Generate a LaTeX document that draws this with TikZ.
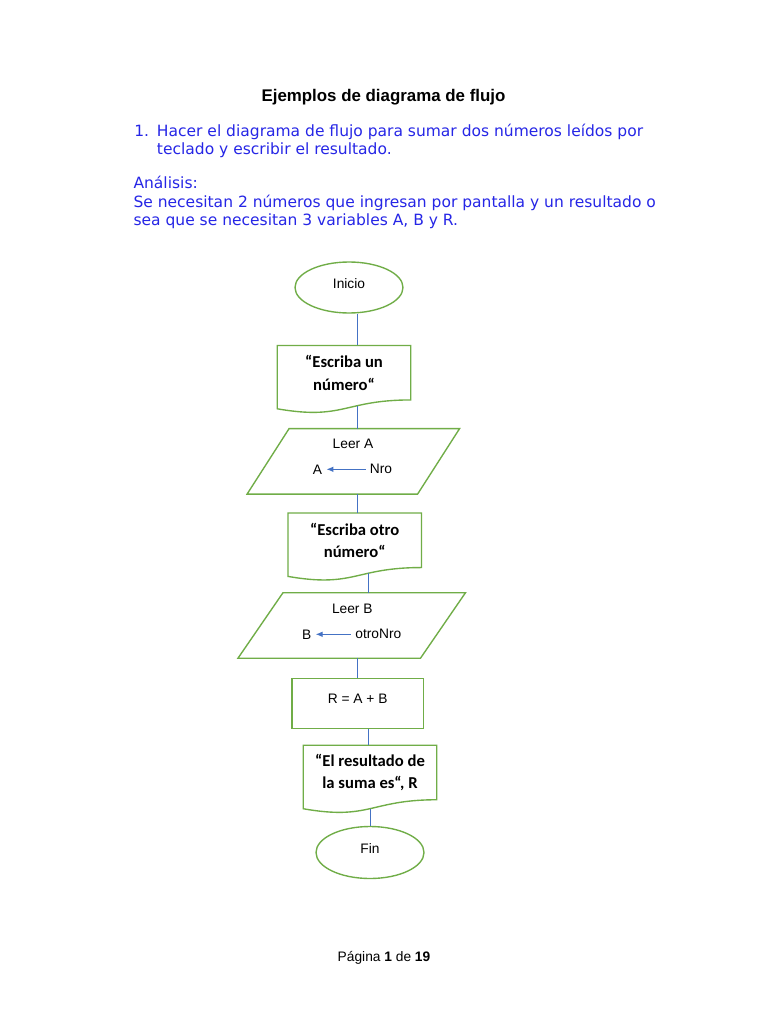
\documentclass[tikz,border=0pt]{standalone}
\usepackage{fontspec}
\setmainfont{Liberation Sans}
\newfontfamily\verdfont{DejaVu Sans}
\newfontfamily\calfont{Carlito}
\usetikzlibrary{calc,shapes.geometric,arrows.meta}
\definecolor{shapegreen}{RGB}{112,173,71}
\definecolor{linkblue}{RGB}{68,114,196}
\definecolor{textblue}{RGB}{38,38,230}
\def\px{0.02811cm}
\def\docshape#1#2#3{\draw[outline] ($(#1.south west)+(0,0.132*#2)$) -- (#1.north west) -- (#1.north east) -- (#1.south east) .. controls (#1.south) and ($(#1.south)+(0,0.3055*#2)$) .. coordinate[pos=#3] (#1-out) ($(#1.south west)+(0,0.132*#2)$) -- cycle;}
\def\ioshape#1#2{\draw[outline] ($(#1.north west)+(#2,0)$) -- ($(#1.north east)+(#2,0)$) -- ($(#1.south east)+(-#2,0)$) -- ($(#1.south west)+(-#2,0)$) -- cycle;}

\begin{document}
\begin{tikzpicture}[x=0.02811cm, y=-0.02811cm,
	outline/.style={draw=shapegreen, line width=1.1pt},
	flow/.style={draw=linkblue, line width=0.8pt},
	varrow/.style={draw=linkblue, line width=0.8pt, -{Latex[length=5.5pt,width=4.5pt]}},
	boxtext/.style={font=\fontsize{11}{13}\selectfont, text height=7.9pt, text depth=7pt, inner sep=0pt},
	plain/.style={font=\fontsize{11}{13}\selectfont},
	docbox/.style={rectangle, minimum width=133*\px, minimum height=54*\px, inner sep=0pt, align=center, font=\calfont\bfseries\fontsize{13.3}{18}\selectfont},
	iobox/.style={rectangle, minimum height=65*\px, inner sep=0pt},
	bluetext/.style={anchor=base west, inner sep=0pt, text=textblue, font=\verdfont\fontsize{12.4}{14}\selectfont}]
		%%%%% PAGE %%%%%
		
		\fill[white] (0,0) rectangle (768,1024);
		\useasboundingbox (0,0) rectangle (768,1024);
		
		\node[font=\bfseries\fontsize{13.5}{16}\selectfont] (titulo) at (383.5,97) {Ejemplos de diagrama de flujo};
		
		\node[bluetext] (num) at (134,136) {1.};
		\node[bluetext] (enun1) at (156.7,136) {Hacer el diagrama de flujo para sumar dos números leídos por};
		\node[bluetext] (enun2) at (156.7,154.5) {teclado y escribir el resultado.};
		\node[bluetext] (anal) at (133.3,188.5) {Análisis:};
		\node[bluetext] (anal1) at (133.3,207) {Se necesitan 2 números que ingresan por pantalla y un resultado o};
		\node[bluetext] (anal2) at (133.3,225.5) {sea que se necesitan 3 variables A, B y R.};
		
		%%%%% FLOWCHART %%%%%
		
		\node[ellipse, outline, boxtext, minimum width=108*\px, minimum height=51*\px] (inicio) at (349,287.5) {Inicio};
		
		\node[docbox] (doc1) at (344,372.7) {“Escriba un\\ número“};
		\docshape{doc1}{67}{0.37}
		
		\node[iobox, minimum width=170*\px] (leerA) at (353.3,461.4) {};
		\ioshape{leerA}{21}
		\node[plain] (leerAt) at (353,444.3) {Leer A};
		\node[plain] (varA) at (317.5,469.3) {A};
		\node[plain] (nro) at (381,469.3) {Nro};
		\draw[varrow] (nro) -- (varA);
		
		\node[docbox] (doc2) at (354.7,540.3) {“Escriba otro\\ número“};
		\docshape{doc2}{67}{0.37}
		
		\node[iobox, minimum width=182*\px] (leerB) at (351.7,625.5) {};
		\ioshape{leerB}{22.5}
		\node[plain] (leerBt) at (352.3,609.3) {Leer B};
		\node[plain] (varB) at (306.7,634.3) {B};
		\node[plain] (otro) at (378.3,634.3) {otroNro};
		\draw[varrow] (otro) -- (varB);
		
		\node[rectangle, outline, boxtext, minimum width=131.3*\px, minimum height=50*\px] (suma) at (357.7,703.3) {R = A + B};
		
		\node[docbox] (doc3) at (370,772.5) {“El resultado de\\ la suma es“, R};
		\docshape{doc3}{68}{0.5}
		
		\node[ellipse, outline, boxtext, minimum width=108*\px, minimum height=52*\px] (fin) at (370,852.5) {Fin};
		
		\draw[flow] (inicio.south -| doc1-out) -- (doc1.north -| doc1-out);
		\draw[flow] (doc1-out) -- (doc1-out |- leerA.north);
		\draw[flow] (leerA.south -| doc1-out) -- (doc2.north -| doc1-out);
		\draw[flow] (doc2-out) -- (doc2-out |- leerB.north);
		\draw[flow] (leerB.south -| suma.north) -- (suma.north);
		\draw[flow] (suma.south -| doc2-out) -- (doc3.north -| doc2-out);
		\draw[flow] (doc3-out) -- (doc3-out |- fin.north);
		
		\node[font=\fontsize{11}{13}\selectfont] (pie) at (384,958) {Página \textbf{1} de \textbf{19}};
		
		%%%%% END %%%%%
	\end{tikzpicture}
\end{document}
